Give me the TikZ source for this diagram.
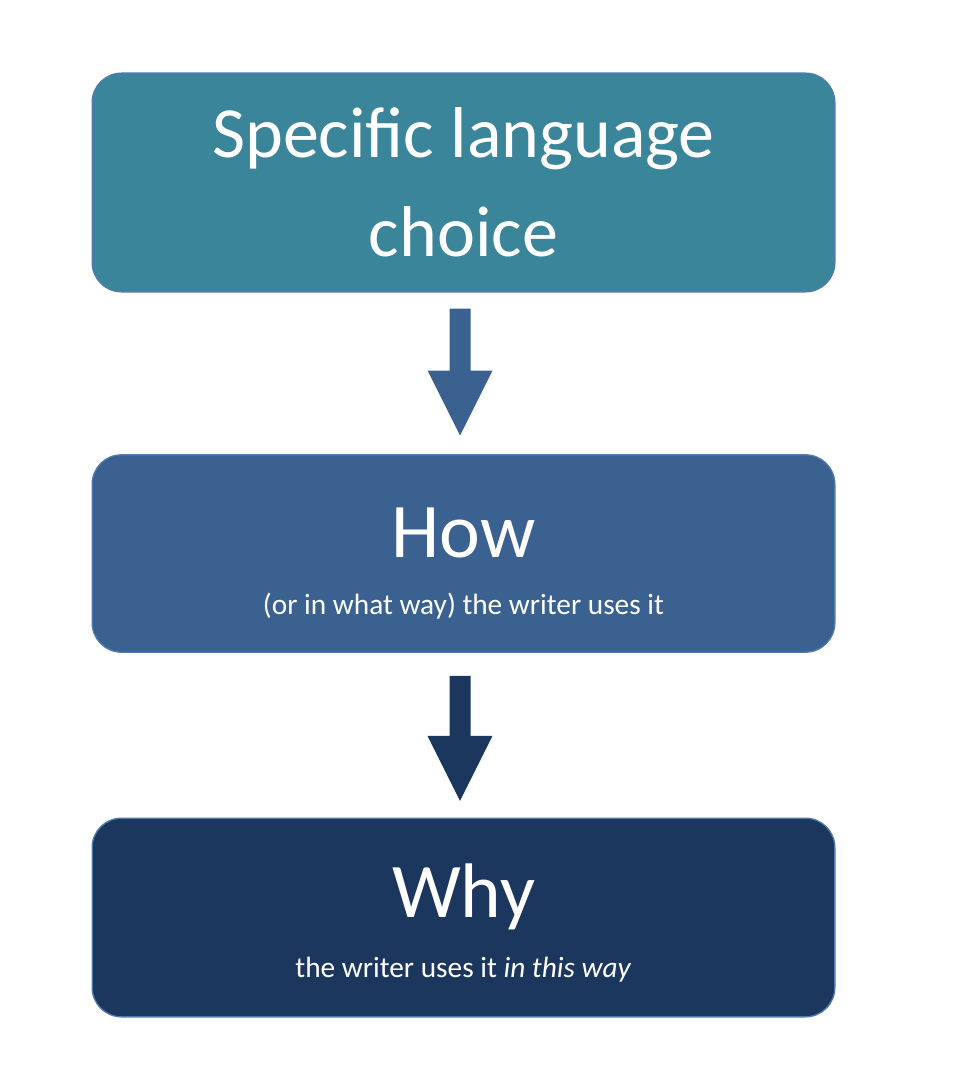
\documentclass[tikz,border=0pt]{standalone}
\usepackage{fontspec}
\setmainfont{Carlito}
\usetikzlibrary{calc}
\definecolor{c1}{HTML}{3A8599}
\definecolor{c2}{HTML}{3A618F}
\definecolor{c3}{HTML}{1C375D}
\definecolor{edge}{HTML}{4F7BB0}
\begin{document}
\begin{tikzpicture}[x=0.75pt,y=-0.75pt,
  box/.style={draw=edge,line width=1pt,rounded corners=22pt,minimum width=557pt,text=white,align=center,inner sep=0pt},
  arr/.style={draw=none}]
\path[use as bounding box] (0,0) rectangle (953,1088);
\node[box,fill=c1,minimum height=164pt,font=\fontsize{54}{74}\selectfont] (b1) at (463.5,182.5) {Specific language\\choice};
\node[box,fill=c2,minimum height=148pt] (b2) at (463.5,553.5) {};
\node[font=\fontsize{58}{60}\selectfont,text=white] (t2) at (463.5,533) {How};
\node[font=\fontsize{22}{24}\selectfont,text=white] (s2) at (463.5,606) {(or in what way) the writer uses it};
\node[box,fill=c3,minimum height=149pt] (b3) at (463.5,917.5) {};
\node[font=\fontsize{58}{60}\selectfont,text=white] (t3) at (463.5,897) {Why};
\node[font=\fontsize{22}{24}\selectfont,text=white] (s3) at (463.5,970) {the writer uses it \textit{in this way}};
\coordinate (a1) at ($(b1.south)+(-3.5,16)$);
\fill[c2] ($(a1)+(-10.5,0)$) -- ($(a1)+(10.5,0)$) -- ($(a1)+(10.5,62)$) -- ($(a1)+(32.5,62)$) -- ($(a1)+(0,127)$) -- ($(a1)+(-32.5,62)$) -- ($(a1)+(-10.5,62)$) -- cycle;
\coordinate (a2) at ($(b2.south)+(-3.5,23)$);
\fill[c3] ($(a2)+(-10.5,0)$) -- ($(a2)+(10.5,0)$) -- ($(a2)+(10.5,60)$) -- ($(a2)+(32.5,60)$) -- ($(a2)+(0,125)$) -- ($(a2)+(-32.5,60)$) -- ($(a2)+(-10.5,60)$) -- cycle;
\end{tikzpicture}
\end{document}
